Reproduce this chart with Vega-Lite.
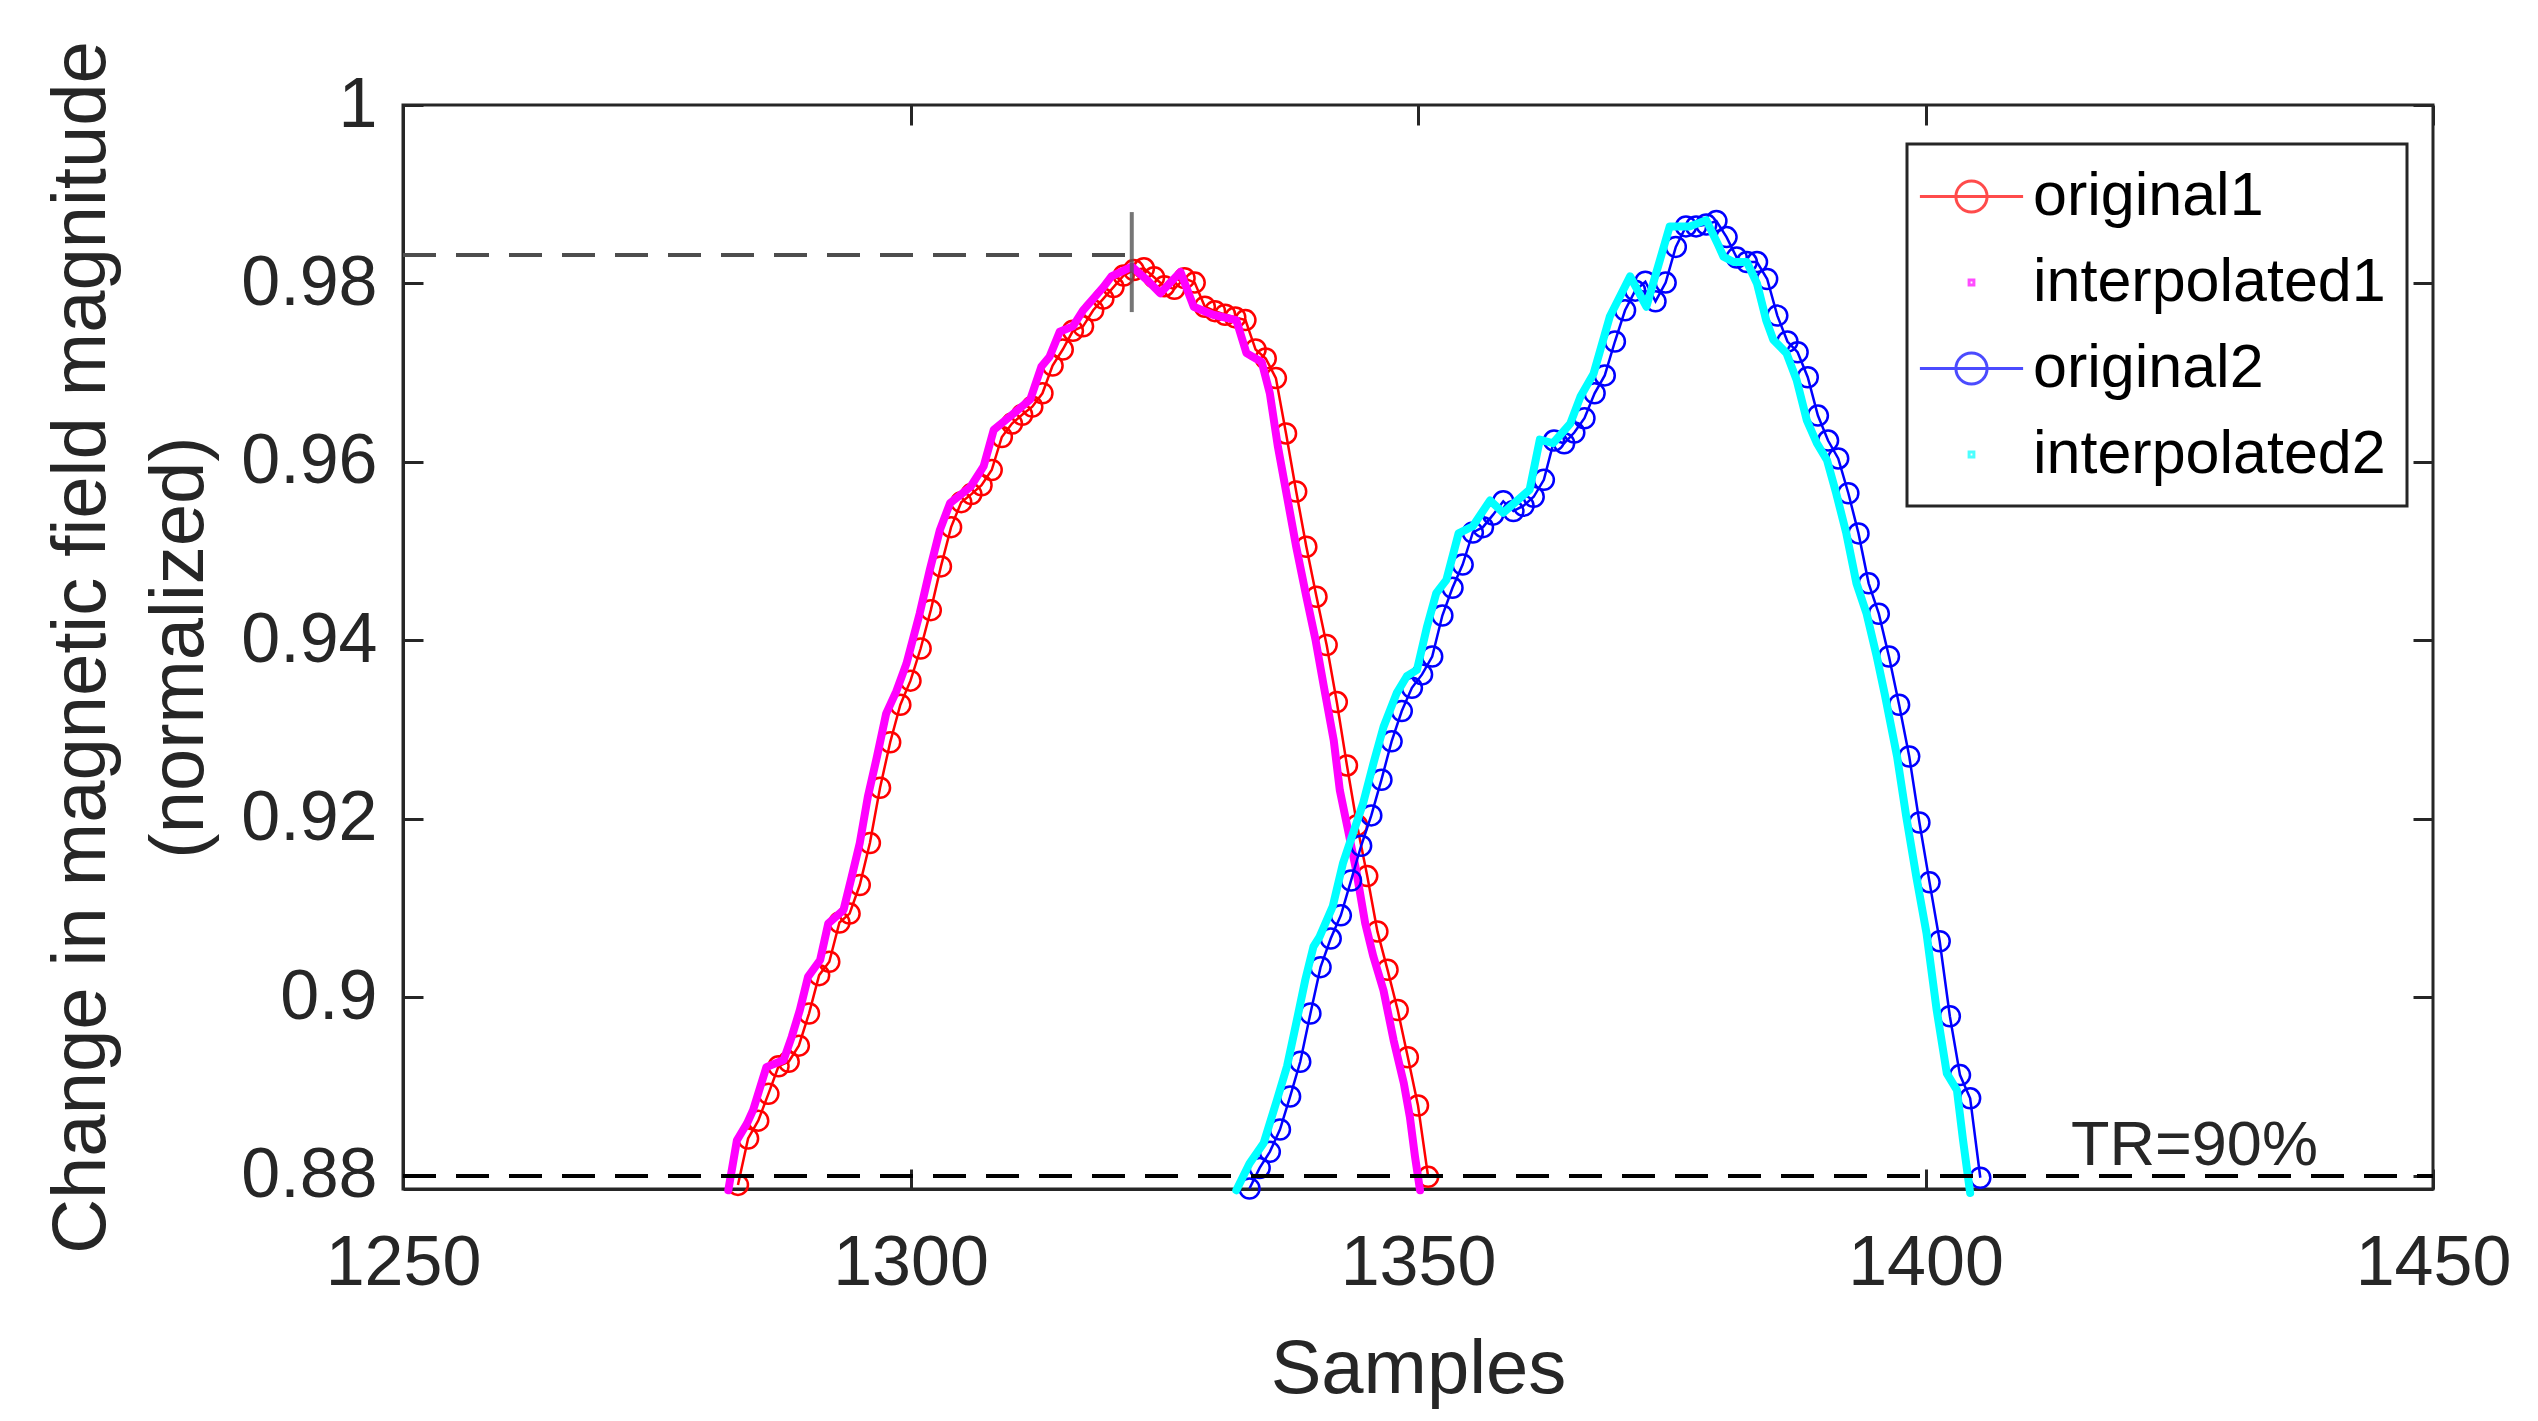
{
  "$schema": "https://vega.github.io/schema/vega-lite/v6.json",
  "width": 2030,
  "height": 1084,
  "autosize": {"type": "none"},
  "padding": {"left": 403, "top": 105, "right": 105, "bottom": 232},
  "background": "white",
  "datasets": {
    "orig1": [
      {"sample": 1283, "value": 0.8790}, {"sample": 1284, "value": 0.8842}, {"sample": 1285, "value": 0.8862},
      {"sample": 1286, "value": 0.8892}, {"sample": 1287, "value": 0.8923}, {"sample": 1288, "value": 0.8928},
      {"sample": 1289, "value": 0.8946}, {"sample": 1290, "value": 0.8982}, {"sample": 1291, "value": 0.9025},
      {"sample": 1292, "value": 0.9040}, {"sample": 1293, "value": 0.9084}, {"sample": 1294, "value": 0.9094},
      {"sample": 1295, "value": 0.9126}, {"sample": 1296, "value": 0.9173}, {"sample": 1297, "value": 0.9235},
      {"sample": 1298, "value": 0.9286}, {"sample": 1299, "value": 0.9328}, {"sample": 1300, "value": 0.9355},
      {"sample": 1301, "value": 0.9391}, {"sample": 1302, "value": 0.9434}, {"sample": 1303, "value": 0.9483},
      {"sample": 1304, "value": 0.9527}, {"sample": 1305, "value": 0.9555}, {"sample": 1306, "value": 0.9564},
      {"sample": 1307, "value": 0.9574}, {"sample": 1308, "value": 0.9591}, {"sample": 1309, "value": 0.9628},
      {"sample": 1310, "value": 0.9643}, {"sample": 1311, "value": 0.9653}, {"sample": 1312, "value": 0.9662},
      {"sample": 1313, "value": 0.9677}, {"sample": 1314, "value": 0.9708}, {"sample": 1315, "value": 0.9726},
      {"sample": 1316, "value": 0.9747}, {"sample": 1317, "value": 0.9752}, {"sample": 1318, "value": 0.9770},
      {"sample": 1319, "value": 0.9783}, {"sample": 1320, "value": 0.9796}, {"sample": 1321, "value": 0.9809},
      {"sample": 1322, "value": 0.9815}, {"sample": 1323, "value": 0.9817}, {"sample": 1324, "value": 0.9807},
      {"sample": 1325, "value": 0.9797}, {"sample": 1326, "value": 0.9794}, {"sample": 1327, "value": 0.9806},
      {"sample": 1328, "value": 0.9801}, {"sample": 1329, "value": 0.9774}, {"sample": 1330, "value": 0.9769},
      {"sample": 1331, "value": 0.9765}, {"sample": 1332, "value": 0.9762}, {"sample": 1333, "value": 0.9759},
      {"sample": 1334, "value": 0.9726}, {"sample": 1335, "value": 0.9716}, {"sample": 1336, "value": 0.9694},
      {"sample": 1337, "value": 0.9632}, {"sample": 1338, "value": 0.9567}, {"sample": 1339, "value": 0.9505},
      {"sample": 1340, "value": 0.9449}, {"sample": 1341, "value": 0.9395}, {"sample": 1342, "value": 0.9331},
      {"sample": 1343, "value": 0.9260}, {"sample": 1344, "value": 0.9193}, {"sample": 1345, "value": 0.9136},
      {"sample": 1346, "value": 0.9074}, {"sample": 1347, "value": 0.9031}, {"sample": 1348, "value": 0.8986},
      {"sample": 1349, "value": 0.8933}, {"sample": 1350, "value": 0.8879}, {"sample": 1351, "value": 0.8799}
    ],
    "interp1": [
      {"sample": 1282.05, "value": 0.8784}, {"sample": 1282.9, "value": 0.8840}, {"sample": 1283.9, "value": 0.8859},
      {"sample": 1284.5, "value": 0.8874}, {"sample": 1285.8, "value": 0.8922}, {"sample": 1287.5, "value": 0.8930},
      {"sample": 1288.3, "value": 0.8956}, {"sample": 1289.1, "value": 0.8986}, {"sample": 1289.9, "value": 0.9023},
      {"sample": 1291.1, "value": 0.9042}, {"sample": 1291.9, "value": 0.9083}, {"sample": 1293.4, "value": 0.9098},
      {"sample": 1294.2, "value": 0.9135}, {"sample": 1295.0, "value": 0.9173}, {"sample": 1295.8, "value": 0.9225},
      {"sample": 1296.7, "value": 0.9270}, {"sample": 1297.6, "value": 0.9318}, {"sample": 1298.6, "value": 0.9343},
      {"sample": 1299.6, "value": 0.9374}, {"sample": 1300.9, "value": 0.9430}, {"sample": 1301.9, "value": 0.9479},
      {"sample": 1302.9, "value": 0.9524}, {"sample": 1303.9, "value": 0.9554}, {"sample": 1305.9, "value": 0.9572},
      {"sample": 1307.2, "value": 0.9595}, {"sample": 1308.2, "value": 0.9636}, {"sample": 1309.8, "value": 0.9651},
      {"sample": 1311.8, "value": 0.9670}, {"sample": 1312.9, "value": 0.9707}, {"sample": 1313.7, "value": 0.9718},
      {"sample": 1314.7, "value": 0.9746}, {"sample": 1316.0, "value": 0.9752}, {"sample": 1317.0, "value": 0.9770},
      {"sample": 1319.0, "value": 0.9796}, {"sample": 1319.8, "value": 0.9808}, {"sample": 1321.8, "value": 0.9819},
      {"sample": 1323.3, "value": 0.9804}, {"sample": 1324.6, "value": 0.9789}, {"sample": 1326.6, "value": 0.9813},
      {"sample": 1327.9, "value": 0.9774}, {"sample": 1329.8, "value": 0.9765}, {"sample": 1332.1, "value": 0.9759},
      {"sample": 1333.1, "value": 0.9722}, {"sample": 1334.6, "value": 0.9712}, {"sample": 1335.4, "value": 0.9677},
      {"sample": 1336.2, "value": 0.9617}, {"sample": 1337.1, "value": 0.9561}, {"sample": 1338.0, "value": 0.9505},
      {"sample": 1339.0, "value": 0.9449}, {"sample": 1339.9, "value": 0.9401}, {"sample": 1340.7, "value": 0.9350},
      {"sample": 1341.7, "value": 0.9288}, {"sample": 1342.3, "value": 0.9232}, {"sample": 1343.1, "value": 0.9188},
      {"sample": 1343.9, "value": 0.9143}, {"sample": 1344.8, "value": 0.9083}, {"sample": 1345.6, "value": 0.9046},
      {"sample": 1346.6, "value": 0.9008}, {"sample": 1347.6, "value": 0.8952}, {"sample": 1348.6, "value": 0.8904},
      {"sample": 1349.2, "value": 0.8866}, {"sample": 1349.7, "value": 0.8822}, {"sample": 1350.2, "value": 0.8784}
    ],
    "orig2": [
      {"sample": 1333.4, "value": 0.8786}, {"sample": 1334.4, "value": 0.8809}, {"sample": 1335.4, "value": 0.8827},
      {"sample": 1336.4, "value": 0.8852}, {"sample": 1337.4, "value": 0.8889}, {"sample": 1338.4, "value": 0.8928},
      {"sample": 1339.4, "value": 0.8982}, {"sample": 1340.4, "value": 0.9034}, {"sample": 1341.4, "value": 0.9066},
      {"sample": 1342.4, "value": 0.9092}, {"sample": 1343.4, "value": 0.9131}, {"sample": 1344.4, "value": 0.9170},
      {"sample": 1345.4, "value": 0.9204}, {"sample": 1346.4, "value": 0.9244}, {"sample": 1347.4, "value": 0.9287},
      {"sample": 1348.4, "value": 0.9321}, {"sample": 1349.4, "value": 0.9347}, {"sample": 1350.4, "value": 0.9362},
      {"sample": 1351.4, "value": 0.9382}, {"sample": 1352.4, "value": 0.9428}, {"sample": 1353.4, "value": 0.9459},
      {"sample": 1354.4, "value": 0.9485}, {"sample": 1355.4, "value": 0.9521}, {"sample": 1356.4, "value": 0.9527},
      {"sample": 1357.4, "value": 0.9541}, {"sample": 1358.4, "value": 0.9556}, {"sample": 1359.4, "value": 0.9545},
      {"sample": 1360.4, "value": 0.9551}, {"sample": 1361.4, "value": 0.9561}, {"sample": 1362.4, "value": 0.9580},
      {"sample": 1363.4, "value": 0.9624}, {"sample": 1364.4, "value": 0.9621}, {"sample": 1365.4, "value": 0.9633},
      {"sample": 1366.4, "value": 0.9649}, {"sample": 1367.4, "value": 0.9677}, {"sample": 1368.4, "value": 0.9697},
      {"sample": 1369.4, "value": 0.9735}, {"sample": 1370.4, "value": 0.9770}, {"sample": 1371.4, "value": 0.9792},
      {"sample": 1372.4, "value": 0.9802}, {"sample": 1373.4, "value": 0.9780}, {"sample": 1374.4, "value": 0.9801},
      {"sample": 1375.4, "value": 0.9841}, {"sample": 1376.4, "value": 0.9864}, {"sample": 1377.4, "value": 0.9864},
      {"sample": 1378.4, "value": 0.9866}, {"sample": 1379.4, "value": 0.9870}, {"sample": 1380.4, "value": 0.9852},
      {"sample": 1381.4, "value": 0.9829}, {"sample": 1382.4, "value": 0.9824}, {"sample": 1383.4, "value": 0.9824},
      {"sample": 1384.4, "value": 0.9805}, {"sample": 1385.4, "value": 0.9764}, {"sample": 1386.4, "value": 0.9735},
      {"sample": 1387.4, "value": 0.9723}, {"sample": 1388.4, "value": 0.9695}, {"sample": 1389.4, "value": 0.9652},
      {"sample": 1390.4, "value": 0.9624}, {"sample": 1391.4, "value": 0.9604}, {"sample": 1392.4, "value": 0.9565},
      {"sample": 1393.4, "value": 0.9520}, {"sample": 1394.4, "value": 0.9464}, {"sample": 1395.4, "value": 0.9430},
      {"sample": 1396.4, "value": 0.9382}, {"sample": 1397.4, "value": 0.9328}, {"sample": 1398.4, "value": 0.9270},
      {"sample": 1399.4, "value": 0.9196}, {"sample": 1400.4, "value": 0.9129}, {"sample": 1401.4, "value": 0.9063},
      {"sample": 1402.4, "value": 0.8979}, {"sample": 1403.4, "value": 0.8913}, {"sample": 1404.4, "value": 0.8887},
      {"sample": 1405.4, "value": 0.8798}
    ],
    "interp2": [
      {"sample": 1332.1, "value": 0.8784}, {"sample": 1333.4, "value": 0.8814}, {"sample": 1334.8, "value": 0.8837},
      {"sample": 1336.1, "value": 0.8885}, {"sample": 1337.1, "value": 0.8923}, {"sample": 1338.0, "value": 0.8971},
      {"sample": 1338.9, "value": 0.9020}, {"sample": 1339.7, "value": 0.9057}, {"sample": 1340.3, "value": 0.9068},
      {"sample": 1341.6, "value": 0.9102}, {"sample": 1342.6, "value": 0.9150}, {"sample": 1343.6, "value": 0.9184},
      {"sample": 1344.6, "value": 0.9218}, {"sample": 1345.6, "value": 0.9262}, {"sample": 1346.6, "value": 0.9303},
      {"sample": 1347.9, "value": 0.9341}, {"sample": 1348.9, "value": 0.9360}, {"sample": 1349.9, "value": 0.9367},
      {"sample": 1350.9, "value": 0.9416}, {"sample": 1351.8, "value": 0.9453}, {"sample": 1352.8, "value": 0.9468},
      {"sample": 1354.0, "value": 0.9520}, {"sample": 1355.4, "value": 0.9528}, {"sample": 1357.1, "value": 0.9557},
      {"sample": 1358.4, "value": 0.9543}, {"sample": 1361.0, "value": 0.9569}, {"sample": 1362.0, "value": 0.9625},
      {"sample": 1363.3, "value": 0.9621}, {"sample": 1365.0, "value": 0.9643}, {"sample": 1366.0, "value": 0.9673},
      {"sample": 1367.3, "value": 0.9699}, {"sample": 1368.9, "value": 0.9763}, {"sample": 1370.9, "value": 0.9808},
      {"sample": 1372.5, "value": 0.9774}, {"sample": 1374.8, "value": 0.9864}, {"sample": 1376.8, "value": 0.9864},
      {"sample": 1378.4, "value": 0.9871}, {"sample": 1379.5, "value": 0.9845}, {"sample": 1380.1, "value": 0.9830},
      {"sample": 1381.1, "value": 0.9824}, {"sample": 1382.4, "value": 0.9824}, {"sample": 1383.4, "value": 0.9800},
      {"sample": 1384.3, "value": 0.9759}, {"sample": 1385.0, "value": 0.9737}, {"sample": 1386.3, "value": 0.9722},
      {"sample": 1387.3, "value": 0.9692}, {"sample": 1388.3, "value": 0.9647}, {"sample": 1389.3, "value": 0.9621},
      {"sample": 1390.3, "value": 0.9602}, {"sample": 1391.2, "value": 0.9565}, {"sample": 1392.2, "value": 0.9520},
      {"sample": 1393.2, "value": 0.9464}, {"sample": 1394.2, "value": 0.9430}, {"sample": 1395.2, "value": 0.9382},
      {"sample": 1396.0, "value": 0.9339}, {"sample": 1397.2, "value": 0.9270}, {"sample": 1398.1, "value": 0.9203},
      {"sample": 1399.1, "value": 0.9135}, {"sample": 1400.1, "value": 0.9072}, {"sample": 1401.1, "value": 0.8986},
      {"sample": 1402.1, "value": 0.8915}, {"sample": 1403.1, "value": 0.8896}, {"sample": 1403.7, "value": 0.8840},
      {"sample": 1404.4, "value": 0.8781}
    ],
    "threshold": [{"sample": 1250, "value": 0.88}, {"sample": 1450, "value": 0.88}],
    "peakline": [{"sample": 1250, "value": 0.9832}, {"sample": 1321.8, "value": 0.9832}],
    "peak": [{"sample": 1321.8, "value": 0.9824}],
    "note": [{"sample": 1426.5, "value": 0.8812, "label": "TR=90%"}],
    "series": [{"series": "original1"}, {"series": "interpolated1"}, {"series": "original2"}, {"series": "interpolated2"}]
  },
  "layer": [
    {
      "data": {"name": "orig1"},
      "mark": {"type": "line", "color": "#ff0000", "strokeWidth": 2.5},
      "encoding": {
        "x": {"field": "sample", "type": "quantitative", "scale": {"domain": [1250, 1450], "nice": false, "zero": false},
          "axis": {"orient": "bottom", "values": [1250, 1300, 1350, 1400, 1450], "format": "d", "title": "Samples",
            "labelFlush": false, "labelOverlap": false, "labelPadding": 60, "titlePadding": 34}},
        "y": {"field": "value", "type": "quantitative", "scale": {"domain": [0.87854, 1], "nice": false, "zero": false},
          "axis": {"orient": "left", "values": [0.88, 0.9, 0.92, 0.94, 0.96, 0.98, 1], "format": ".2~f",
            "title": ["Change in magnetic field magnitude", "(normalized)"], "titleLineHeight": 98,
            "labelPadding": 46, "labelOverlap": false, "titlePadding": 22}}
      }
    },
    {
      "data": {"name": "orig1"},
      "mark": {"type": "point", "shape": "circle", "filled": false, "color": "#ff0000", "size": 400, "strokeWidth": 2.5, "opacity": 1},
      "encoding": {
        "x": {"field": "sample", "type": "quantitative", "axis": null},
        "y": {"field": "value", "type": "quantitative", "axis": null}
      }
    },
    {
      "data": {"name": "interp1"},
      "mark": {"type": "line", "color": "#ff00ff", "strokeWidth": 8, "strokeJoin": "round", "strokeCap": "round"},
      "encoding": {
        "x": {"field": "sample", "type": "quantitative", "axis": null},
        "y": {"field": "value", "type": "quantitative", "axis": null}
      }
    },
    {
      "data": {"name": "orig2"},
      "mark": {"type": "line", "color": "#0000ff", "strokeWidth": 2.5},
      "encoding": {
        "x": {"field": "sample", "type": "quantitative", "axis": null},
        "y": {"field": "value", "type": "quantitative", "axis": null}
      }
    },
    {
      "data": {"name": "orig2"},
      "mark": {"type": "point", "shape": "circle", "filled": false, "color": "#0000ff", "size": 400, "strokeWidth": 2.5, "opacity": 1},
      "encoding": {
        "x": {"field": "sample", "type": "quantitative", "axis": null},
        "y": {"field": "value", "type": "quantitative", "axis": null}
      }
    },
    {
      "data": {"name": "interp2"},
      "mark": {"type": "line", "color": "#00ffff", "strokeWidth": 8, "strokeJoin": "round", "strokeCap": "round"},
      "encoding": {
        "x": {"field": "sample", "type": "quantitative", "axis": null},
        "y": {"field": "value", "type": "quantitative", "axis": null}
      }
    },
    {
      "data": {"name": "threshold"},
      "mark": {"type": "line", "color": "#000000", "strokeWidth": 4, "strokeDash": [33, 20]},
      "encoding": {
        "x": {"field": "sample", "type": "quantitative",
          "axis": {"orient": "top", "values": [1250, 1300, 1350, 1400, 1450], "labels": false, "domain": false, "title": null}},
        "y": {"field": "value", "type": "quantitative",
          "axis": {"orient": "right", "values": [0.88, 0.9, 0.92, 0.94, 0.96, 0.98, 1], "labels": false, "domain": false, "title": null}}
      }
    },
    {
      "data": {"name": "peakline"},
      "mark": {"type": "line", "color": "#4d4d4d", "strokeWidth": 4, "strokeDash": [33, 20]},
      "encoding": {
        "x": {"field": "sample", "type": "quantitative", "axis": null},
        "y": {"field": "value", "type": "quantitative", "axis": null}
      }
    },
    {
      "data": {"name": "peak"},
      "mark": {"type": "point", "shape": "M0,-1V1", "filled": false, "color": "#555555", "size": 10000, "strokeWidth": 4, "opacity": 0.8},
      "encoding": {
        "x": {"field": "sample", "type": "quantitative", "axis": null},
        "y": {"field": "value", "type": "quantitative", "axis": null}
      }
    },
    {
      "data": {"name": "note"},
      "mark": {"type": "text", "font": "Liberation Sans", "fontSize": 63, "color": "#262626", "align": "center", "baseline": "alphabetic"},
      "encoding": {
        "x": {"field": "sample", "type": "quantitative", "axis": null},
        "y": {"field": "value", "type": "quantitative", "axis": null},
        "text": {"field": "label", "type": "nominal"}
      }
    },
    {
      "data": {"name": "series"},
      "transform": [{"filter": "false"}],
      "mark": {"type": "point", "filled": false, "strokeWidth": 3},
      "encoding": {
        "color": {"field": "series", "type": "nominal",
          "scale": {"domain": ["original1", "interpolated1", "original2", "interpolated2"], "range": ["#ff0000", "#ff00ff", "#0000ff", "#00ffff"]},
          "legend": {"orient": "none", "legendX": 1504, "legendY": 39, "title": null, "padding": 21,
            "strokeColor": "#262626", "fillColor": "white",
            "labelFont": "Liberation Sans", "labelFontSize": 61, "labelColor": "#000000", "labelLimit": 0,
            "symbolSize": 3600, "symbolStrokeWidth": 3, "symbolOffset": 12, "labelOffset": 30, "rowPadding": 24}},
        "shape": {"field": "series", "type": "nominal",
          "scale": {"domain": ["original1", "interpolated1", "original2", "interpolated2"],
            "range": ["M-1.72,0H1.72M0.52,0A0.52,0.52 0 1,1 -0.52,0A0.52,0.52 0 1,1 0.52,0", "M-0.08,-0.08H0.08V0.08H-0.08Z",
              "M-1.72,0H1.72M0.52,0A0.52,0.52 0 1,1 -0.52,0A0.52,0.52 0 1,1 0.52,0", "M-0.08,-0.08H0.08V0.08H-0.08Z"]}}
      }
    }
  ],
  "resolve": {"axis": {"x": "independent", "y": "independent"}},
  "config": {
    "font": "Liberation Sans",
    "view": {"stroke": "#262626", "strokeWidth": 3},
    "legend": {"strokeWidth": 3},
    "axis": {
      "labelFont": "Liberation Sans", "titleFont": "Liberation Sans",
      "labelFontSize": 70, "titleFontSize": 76, "titleFontWeight": "normal",
      "labelColor": "#262626", "titleColor": "#262626",
      "domainColor": "#262626", "domainWidth": 3,
      "tickColor": "#262626", "tickWidth": 3, "tickSize": -20,
      "grid": false
    }
  }
}
